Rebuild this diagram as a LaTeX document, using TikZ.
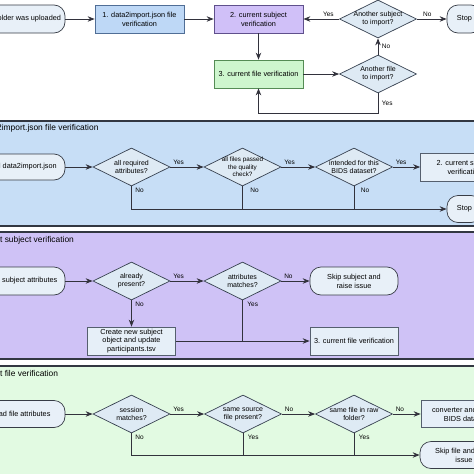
\documentclass[tikz,border=0pt]{standalone}
\usepackage{fontspec}
\setmainfont{Liberation Sans}
\usepackage{xcolor}
\usepackage{tikz}
\usetikzlibrary{arrows.meta, shapes.geometric}

\definecolor{secblue}{RGB}{199,222,246}
\definecolor{secpurple}{RGB}{207,194,246}
\definecolor{secgreen}{RGB}{226,250,226}
\definecolor{secline}{RGB}{50,55,65}
\definecolor{termfill}{RGB}{232,240,248}
\definecolor{termline}{RGB}{55,60,70}
\definecolor{dfill}{RGB}{222,234,244}
\definecolor{dline}{RGB}{55,65,80}
\definecolor{innerfill}{RGB}{230,239,248}
\definecolor{innerline}{RGB}{85,95,110}
\definecolor{boxafill}{RGB}{190,216,246}
\definecolor{boxaline}{RGB}{80,110,150}
\definecolor{boxbfill}{RGB}{208,192,248}
\definecolor{boxbline}{RGB}{95,80,140}
\definecolor{boxcfill}{RGB}{206,246,206}
\definecolor{boxcline}{RGB}{85,140,85}
\definecolor{arrline}{RGB}{50,50,60}

\begin{document}
\begin{tikzpicture}[x=1pt, y=-1pt,
    font=\fontsize{7.3}{9}\selectfont,
    term/.style={draw=termline, fill=termfill, rounded corners=11pt, minimum width=90pt,
      minimum height=28pt, inner sep=0pt, align=center, line width=0.7pt},
    proc/.style={draw=innerline, fill=innerfill, minimum width=89pt, minimum height=28pt,
      inner sep=0pt, align=center, line width=0.7pt},
    decision/.style={diamond, draw=dline, fill=dfill, minimum width=77pt, minimum height=38pt,
      inner sep=0pt, line width=0.7pt},
    dtext/.style={align=center, font=\fontsize{7}{8.3}\selectfont, inner sep=0pt},
    arr/.style={-{Stealth[length=7pt,width=5.5pt]}, draw=arrline, line width=0.9pt},
    lnk/.style={draw=arrline, line width=0.9pt},
    lbl/.style={font=\fontsize{6.5}{7}\selectfont, inner sep=1.5pt},
    section/.style={draw=secline, line width=1.2pt},
    sectitle/.style={anchor=west, font=\fontsize{8.4}{10}\selectfont, inner sep=0pt}
  ]
    \useasboundingbox (0,0) rectangle (474,474);
    \clip (0,0) rectangle (474,474);

    % Overview
    \node[term] (upl) at (20,19) {New folder was uploaded};
    \node[proc, fill=boxafill, draw=boxaline] (jsonv) at (139.5,19) {1. data2import.json file\\verification};
    \node[proc, fill=boxbfill, draw=boxbline] (subjv) at (258.5,19) {2. current subject\\verification};
    \node[proc, fill=boxcfill, draw=boxcline] (filev) at (258.5,74) {3. current file verification};
    \node[decision, label={[dtext]center:Another subject\\to import?}] (nextsub) at (378,19) {};
    \node[decision, label={[dtext]center:Another file\\to import?}] (nextfile) at (378,74) {};
    \node[term, minimum width=35pt] (stopa) at (464.5,19) {Stop};
    \draw[arr] (upl) -- (jsonv);
    \draw[arr] (jsonv) -- (subjv);
    \draw[arr] (nextsub) -- node[lbl, above, pos=.3] {Yes} (subjv);
    \draw[arr] (nextsub) -- node[lbl, above, pos=.35] {No} (stopa);
    \draw[arr] (subjv) -- (filev);
    \draw[arr] (filev) -- (nextfile);
    \draw[arr] (nextfile) -- node[lbl, right, xshift=2pt] {No} (nextsub);
    \draw[arr] (nextfile.south) -- ++(0,20) node[lbl, midway, right, xshift=2pt] {Yes} -| (filev.south);

    % 1. data2import.json file verification
    \draw[section, fill=secblue] (-5,121) rectangle (479,226);
    \node[sectitle] (titlea) at (-29.5,128) {1. data2import.json file verification};
    \node[term, minimum height=26pt] (readjson) at (20,167) {Read data2import.json};
    \node[decision, label={[dtext]center:all required\\attributes?}] (reqattr) at (131.5,167) {};
    \node[decision, label={[dtext, font=\fontsize{6.3}{7.4}\selectfont]center:all files passed\\the quality\\check?}] (quality) at (242.5,167) {};
    \node[decision, label={[dtext]center:intended for this\\BIDS dataset?}] (bidsset) at (354,167) {};
    \node[proc] (subjvb) at (465,167) {2. current subject\\verification};
    \node[term, minimum width=35pt, minimum height=27pt] (stopb) at (464.5,209) {Stop};
    \draw[arr] (readjson) -- (reqattr);
    \draw[arr] (reqattr) -- node[lbl, pos=0, anchor=south west, xshift=1pt] {Yes} (quality);
    \draw[arr] (quality) -- node[lbl, pos=0, anchor=south west, xshift=1pt] {Yes} (bidsset);
    \draw[arr] (bidsset) -- node[lbl, pos=0, anchor=south west, xshift=1pt] {Yes} (subjvb);
    \draw[arr] (reqattr.south) |- node[lbl, pos=0, anchor=north west, xshift=2pt] {No} (stopb.west);
    \draw[lnk] (quality.south) -- node[lbl, pos=0, anchor=north west, xshift=6pt] {No} (quality.south |- stopb.west);
    \draw[lnk] (bidsset.south) -- node[lbl, pos=0, anchor=north west, xshift=5pt] {No} (bidsset.south |- stopb.west);

    % 2. current subject verification
    \draw[section, fill=secpurple] (-5,232) rectangle (479,359);
    \node[sectitle] (titleb) at (-34,240) {2. current subject verification};
    \node[term] (readsub) at (20,281) {Read subject attributes};
    \node[decision, label={[dtext]center:already\\present?}] (present) at (131.5,281) {};
    \node[decision, label={[dtext]center:attributes\\matches?}] (attrmatch) at (242.5,281) {};
    \node[term, minimum width=88pt] (skipsub) at (354,281) {Skip subject and\\raise issue};
    \node[proc, minimum width=88pt, font=\fontsize{7.3}{8.7}\selectfont] (newsub) at (131.5,341) {Create new subject\\object and update\\participants.tsv};
    \node[proc, minimum width=88pt] (filevb) at (354,341) {3. current file verification};
    \draw[arr] (readsub) -- (present);
    \draw[arr] (present) -- node[lbl, pos=0, anchor=south west, xshift=1pt] {Yes} (attrmatch);
    \draw[arr] (attrmatch) -- node[lbl, pos=0, anchor=south west, xshift=1pt] {No} (skipsub);
    \draw[arr] (present) -- node[lbl, pos=0, anchor=north west, xshift=2pt] {No} (newsub);
    \draw[arr] (newsub) -- (filevb);
    \draw[lnk] (attrmatch.south) -- node[lbl, pos=0, anchor=north west, xshift=3pt] {Yes} (attrmatch.south |- filevb.west);

    % 3. current file verification
    \draw[section, fill=secgreen] (-5,366) rectangle (479,480);
    \node[sectitle] (titlec) at (-34,373) {3. current file verification};
    \node[term, minimum height=27pt] (readfile) at (20,414) {Read file attributes};
    \node[decision, label={[dtext]center:session\\matches?}] (session) at (131.5,414) {};
    \node[decision, label={[dtext]center:same source\\file present?}] (samesrc) at (243,414) {};
    \node[decision, label={[dtext]center:same file in raw\\folder?}] (rawfile) at (354,414) {};
    \node[proc, minimum height=27pt] (convert) at (465.5,414) {converter and add to\\BIDS dataset};
    \node[term, minimum width=88pt, minimum height=27pt] (skipfile) at (464,455) {Skip file and raise\\issue};
    \draw[arr] (readfile) -- (session);
    \draw[arr] (session) -- node[lbl, pos=0, anchor=south west, xshift=1pt] {Yes} (samesrc);
    \draw[arr] (samesrc) -- node[lbl, pos=0, anchor=south west, xshift=1pt] {No} (rawfile);
    \draw[arr] (rawfile) -- node[lbl, pos=0, anchor=south west, xshift=1pt] {No} (convert);
    \draw[arr] (session.south) |- node[lbl, pos=0, anchor=north west, xshift=2pt] {No} (skipfile.west);
    \draw[lnk] (samesrc.south) -- node[lbl, pos=0, anchor=north west, xshift=3pt] {Yes} (samesrc.south |- skipfile.west);
    \draw[lnk] (rawfile.south) -- node[lbl, pos=0, anchor=north west, xshift=3pt] {Yes} (rawfile.south |- skipfile.west);
  \end{tikzpicture}
\end{document}
